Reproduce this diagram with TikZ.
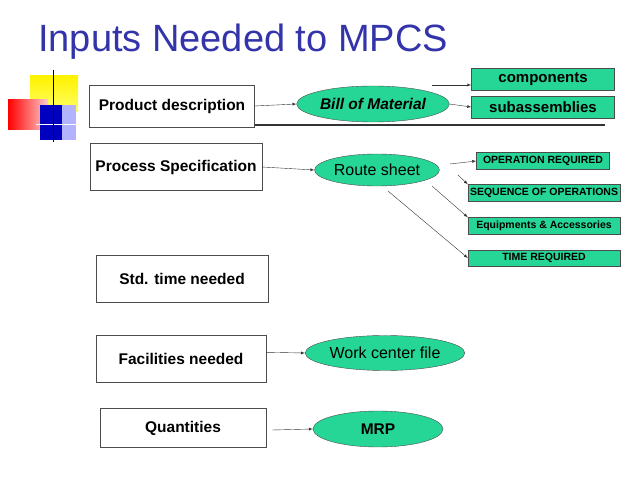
\documentclass[tikz,border=0pt]{standalone}
\usepackage{fontspec}
\setmainfont{Liberation Sans}
\usetikzlibrary{shapes.geometric}
\definecolor{teal}{RGB}{38,214,150}
\definecolor{titleblue}{RGB}{51,51,170}
\tikzset{
  inbox/.style={draw=black!70, minimum height=#1, font=\bfseries\fontsize{15.5}{18}\selectfont},
  outbox/.style={draw=black!70, fill=teal, inner sep=1pt, font=\bfseries\fontsize{#1}{#1}\selectfont},
  oval/.style={ellipse, draw=black!70, fill=teal, inner sep=1pt, font=\fontsize{16}{18}\selectfont},
  arr/.style={-latex, black!80, thin}
}
\begin{document}
\begin{tikzpicture}[x=1pt,y=-1pt]
\useasboundingbox (0,0) rectangle (638,478);
\node[anchor=base west, text=titleblue, inner sep=0pt, font=\fontsize{38}{42}\selectfont] (title) at (38,52) {Inputs Needed to MPCS};
% corner marks
\shade[top color=yellow!90!orange, bottom color=yellow!60] (30,76) rectangle (78,112);
\shade[left color=red, right color=red!20] (8,100) rectangle (48,130);
\fill[blue!75!black] (40,105) rectangle (65,140);
\fill[blue!30] (62,105) rectangle (76,140);
\draw[white, thick] (36,124) -- (76,124);
\draw[black, thick] (53,70) -- (53,142);
\draw[black!80, line width=1.5pt] (255,125) -- (605,125);
% inputs
\node[inbox=42pt, minimum width=165pt] (prod) at (172,106) {Product description};
\node[inbox=47pt, minimum width=172pt] (proc) at (176,167) {Process Specification};
\node[inbox=47pt, minimum width=172pt] (std) at (182,279) {Std. time needed};
\node[inbox=47pt, minimum width=170pt] (fac) at (181,359) {Facilities needed};
\node[inbox=39pt, minimum width=166pt] (qty) at (183,428) {Quantities};
% ovals
\node[oval, minimum width=140pt, minimum height=36pt, font=\bfseries\itshape\fontsize{15.5}{18}\selectfont] (bom) at (373,104) {Bill of Material};
\node[oval, minimum width=115pt, minimum height=32pt] (route) at (377,170) {Route sheet};
\node[oval, minimum width=130pt, minimum height=35pt] (wcf) at (385,353) {Work center file};
\node[oval, minimum width=130pt, minimum height=36pt, font=\bfseries\fontsize{15.5}{18}\selectfont] (mrp) at (378,429) {MRP};
% outputs
\node[outbox=15, minimum width=143pt, minimum height=22pt] (comp) at (543,79) {components};
\node[outbox=15, minimum width=143pt, minimum height=22pt] (sub) at (543,107) {subassemblies};
\node[outbox=10.5, minimum width=133pt, minimum height=17pt] (oper) at (543,161) {OPERATION REQUIRED};
\node[outbox=10.5, minimum width=152pt, minimum height=17pt] (seq) at (544,193) {SEQUENCE OF OPERATIONS};
\node[outbox=10.5, minimum width=152pt, minimum height=17pt] (equip) at (544,226) {Equipments \& Accessories};
\node[outbox=10.5, minimum width=152pt, minimum height=16pt] (time) at (544,258) {TIME REQUIRED};
% connectors
\coordinate (c1) at (432,85);
\coordinate (r1) at (450,164);
\coordinate (r2) at (458,175);
\coordinate (r3) at (432,186);
\coordinate (r4) at (388,191);
\draw[arr] (prod.east) -- (bom.west);
\draw[arr] (c1) -- (comp.west |- c1);
\draw[arr] (bom.east) -- (sub.west);
\draw[arr] (proc.east) -- (route.west);
\draw[arr] (r1) -- (oper.west);
\draw[arr] (r2) -- (seq.north west);
\draw[arr] (r3) -- (equip.north west);
\draw[arr] (r4) -- (time.west);
\draw[arr] (fac.north east) ++(0,17) -- (wcf.west);
\draw[arr] (qty.east) ++(6,2) -- (mrp.west);
\end{tikzpicture}
\end{document}
